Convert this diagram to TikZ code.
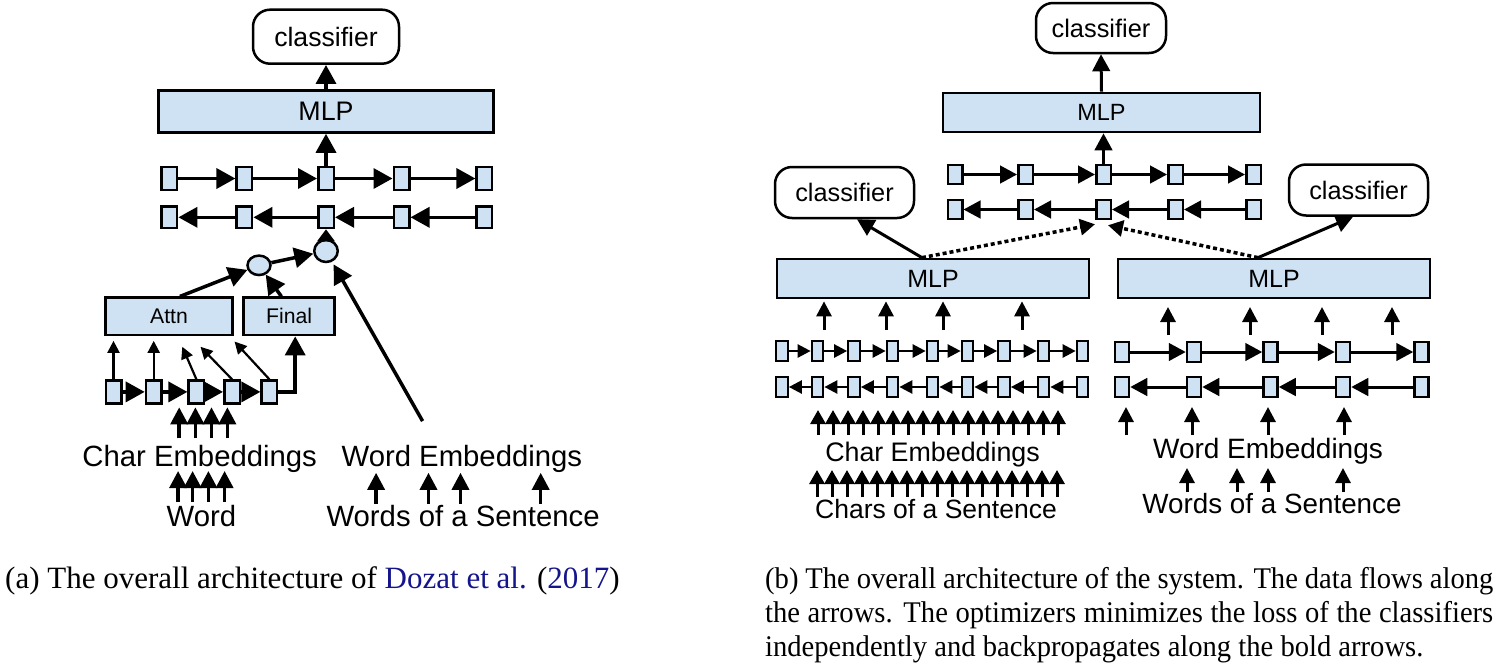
\documentclass[tikz,border=0pt]{standalone}
\usepackage{fontspec}
\setmainfont{Liberation Serif}
\newfontfamily\arial{Liberation Sans}
\usetikzlibrary{arrows.meta,shapes.geometric}
\definecolor{cellblue}{RGB}{207,226,243}
\definecolor{citeblue}{RGB}{20,20,140}
\newcommand\setfs[1]{\fontsize{#1}{#1}\selectfont}
\begin{document}
\begin{tikzpicture}[x=1pt,y=-1pt,
  blk/.style={draw, line width=2.7pt, fill=cellblue, inner sep=0pt},
  cell/.style={draw, line width=2.5pt, fill=cellblue, inner sep=0pt},
  scell/.style={draw, line width=2.2pt, fill=cellblue, inner sep=0pt, minimum width=11.5pt, minimum height=20pt},
  circ/.style={ellipse, draw, line width=2.5pt, fill=cellblue, inner sep=0pt},
  cls/.style={draw, line width=2.5pt, rounded corners=17pt, fill=white, inner sep=0pt},
  arrA/.style={line width=3.5pt, -{Triangle[length=19pt,width=20pt]}},
  barrA/.style={line width=3.5pt, -{Triangle[length=17pt,width=17pt]}},
  arr/.style={line width=3pt, -{Triangle[length=17pt,width=17.5pt]}},
  uarr/.style={line width=3pt, -{Triangle[length=15pt,width=15pt]}},
  carr/.style={line width=3pt, -{Triangle[length=14pt,width=15pt]}},
  tarr/.style={line width=2.2pt, -{Triangle[length=12pt,width=12pt]}},
  sarr/.style={line width=2.5pt, -{Triangle[length=13pt,width=13pt]}},
  darr/.style={line width=3.5pt, dash pattern=on 4pt off 3pt, -{Triangle[length=15pt,width=16pt]}},
  lab/.style={inner sep=0pt, anchor=base, font=\arial\setfs{29.3}},
  captxt/.style={inner sep=0pt, anchor=base west, font=\setfs{30}},
]
\useasboundingbox (0,0) rectangle (1497,665);

% ---------------- left panel (a) ----------------
\node[cls, minimum width=146pt, minimum height=54pt, font=\arial\setfs{26.6}] (clsA) at (326,36.7) {classifier};
\node[blk, minimum width=335pt, minimum height=42pt, font=\arial\setfs{26.8}] (mlpA) at (326,111.4) {MLP};
\draw[arrA] (mlpA.north) -- (clsA.south);
\foreach \i/\x in {1/169.4,2/244.4,3/326,4/401.5,5/484.4}{
  \node[cell, minimum width=15.5pt, minimum height=23pt] (fa\i) at (\x,178.5) {};
  \node[cell, minimum width=15.5pt, minimum height=21.5pt] (ba\i) at (\x,217.3) {};
}
\foreach \i/\j in {1/2,2/3,3/4,4/5}{
  \draw[arrA] (fa\i.east) -- (fa\j.west);
  \draw[arrA] (ba\j.west) -- (ba\i.east);
}
\draw[arrA] (fa3.north) -- (mlpA.south);

\node[circ, minimum width=23.5pt, minimum height=22pt] (cB) at (326,251) {};
\node[circ, minimum width=23pt, minimum height=19.5pt] (cA) at (259,265.3) {};
\draw[line width=3.5pt, -{Triangle[length=12pt,width=17pt]}] (cB.north) -- (ba3.south);
\draw[arrA] (cA) -- (cB);

\node[blk, minimum width=126.4pt, minimum height=37.2pt, font=\arial\setfs{21.2}] (attn) at (169,316.4) {Attn};
\node[blk, minimum width=91.2pt, minimum height=37.2pt, font=\arial\setfs{21.2}] (final) at (289.2,316.4) {Final};
\draw[arrA] ([xshift=10.9pt]attn.north) -- (cA);
\draw[arrA] ([xshift=-7.8pt]final.north) -- (cA);

\foreach \i/\x in {1/113.5,2/153.7,3/196.4,4/232,5/269.4}{
  \node[cell, minimum width=15.5pt, minimum height=22.7pt] (lc\i) at (\x,391.9) {};
}
\foreach \i/\j in {1/2,2/3,3/4,4/5}{
  \draw[arrA] (lc\i.east) -- (lc\j.west);
}
\coordinate (fcorner) at (295.2,391.9);
\draw[arrA] (lc5.east) -- (fcorner) -- (fcorner |- final.south);
\coordinate (tA) at ([yshift=-4.5pt]attn.south);
\draw[tarr] (lc1.north) -- (lc1.north |- tA);
\draw[tarr] (lc2.north) -- (lc2.north |- tA);
\draw[tarr] (lc3.north) -- ([xshift=13.3pt,yshift=-10.4pt]attn.south);
\draw[tarr] (lc4.north) -- ([xshift=31.5pt,yshift=-10.4pt]attn.south);
\draw[tarr] (lc5.north) -- ([xshift=1pt,yshift=-5.2pt]attn.south east);

\node[lab] (ceA) at (199.7,466) {Char Embeddings};
\node[lab] (weA) at (461.9,466) {Word Embeddings};
\node[lab] (wA) at (201.4,526) {Word};
\node[lab] (wsA) at (463.1,526) {Words of a Sentence};
\foreach \x in {179.2,195.4,211.5,227.4} \draw[barrA] (\x,438.3) -- (\x,407.3);
\foreach \x in {178.1,192.6,208.4,224.6} \draw[barrA] (\x,502) -- (\x,471);
\foreach \x in {376.1,428.5,460.5,540.7} \draw[barrA] (\x,503.8) -- (\x,472.8);
\coordinate (lw) at (422.6,421.1);
\draw[arrA, shorten >=3pt] (lw) -- (cB);

% ---------------- right panel (b) ----------------
\node[cls, minimum width=130pt, minimum height=50pt, font=\arial\setfs{25.4}] (clsT) at (1101,28) {classifier};
\node[blk, minimum width=317pt, minimum height=39pt, font=\arial\setfs{23.5}] (mlpT) at (1101.5,112.5) {MLP};
\draw[arr] (mlpT.north) -- (clsT.south);
\foreach \i/\x in {1/955,2/1025.5,3/1103.5,4/1175.5,5/1253.5}{
  \node[cell, minimum width=14.5pt, minimum height=19pt] (ft\i) at (\x,174.5) {};
  \node[cell, minimum width=14.5pt, minimum height=19pt] (bt\i) at (\x,209.5) {};
}
\foreach \i/\j in {1/2,2/3,3/4,4/5}{
  \draw[arr] (ft\i.east) -- (ft\j.west);
  \draw[arr] (bt\j.west) -- (bt\i.east);
}
\draw[arr] (ft3.north) -- (ft3.north |- mlpT.south);

\node[cls, minimum width=139pt, minimum height=51pt, font=\arial\setfs{25.3}] (clsL) at (844.5,192.5) {classifier};
\node[cls, minimum width=139pt, minimum height=51pt, font=\arial\setfs{25.3}] (clsR) at (1358.5,190) {classifier};
\node[blk, minimum width=312pt, minimum height=39pt, font=\arial\setfs{25}] (mlpL) at (933,278.5) {MLP};
\node[blk, minimum width=312pt, minimum height=39pt, font=\arial\setfs{25}] (mlpR) at (1274,278.5) {MLP};
\draw[arr] ([xshift=-11pt]mlpL.north) -- ([xshift=12.5pt]clsL.south);
\draw[arr] ([xshift=-16pt]mlpR.north) -- ([xshift=-5.5pt]clsR.south);
\draw[darr] ([xshift=-11pt]mlpL.north) -- ([xshift=-8.5pt,yshift=-4pt]bt3.south);
\draw[darr] ([xshift=-16pt]mlpR.north) -- ([xshift=4.5pt,yshift=-5pt]bt3.south);

% char rows
\foreach \i/\x in {1/782,2/817.5,3/854,4/892.5,5/932.5,6/967.5,7/1004,8/1043.5,9/1082.5}{
  \node[scell] (fc\i) at (\x,351) {};
  \node[scell] (bc\i) at (\x,387) {};
}
\foreach \i/\j in {1/2,2/3,3/4,4/5,5/6,6/7,7/8,8/9}{
  \draw[sarr] (fc\i.east) -- (fc\j.west);
  \draw[sarr] (bc\j.west) -- (bc\i.east);
}
\foreach \x in {824,886,943,1022} \draw[uarr, shorten >=2pt] (\x,330) -- (\x,0 |- mlpL.south);
\foreach \k in {0,...,16} \draw[carr] ({818+15*\k},435) -- ({818+15*\k},410);
\node[lab, font=\arial\setfs{26.8}] (ceB) at (932.5,461) {Char Embeddings};
\foreach \k in {0,...,16} \draw[carr] ({817+15*\k},497) -- ({817+15*\k},470);
\node[lab, font=\arial\setfs{26.5}] (csB) at (936,518) {Chars of a Sentence};

% word rows
\foreach \i/\x in {1/1122,2/1194,3/1270.5,4/1343,5/1421.5}{
  \node[cell, minimum width=14pt, minimum height=20pt] (fw\i) at (\x,352) {};
  \node[cell, minimum width=14pt, minimum height=20pt] (bw\i) at (\x,387) {};
}
\foreach \i/\j in {1/2,2/3,3/4,4/5}{
  \draw[arr] (fw\i.east) -- (fw\j.west);
  \draw[arr] (bw\j.west) -- (bw\i.east);
}
\foreach \x in {1168,1250,1322,1392} \draw[uarr] (\x,335) -- (\x,307);
\foreach \x in {1126,1192,1268,1344} \draw[uarr] (\x,435) -- (\x,407);
\node[lab, font=\arial\setfs{28}] (weB) at (1268,458) {Word Embeddings};
\foreach \x in {1187,1237,1268,1343} \draw[uarr] (\x,492) -- (\x,468);
\node[lab, font=\arial\setfs{27.8}] (wsB) at (1272,513) {Words of a Sentence};

% ---------------- captions ----------------
\node[captxt, font=\setfs{31}] (capA) at (5,588) {(a) The overall architecture of \textcolor{citeblue}{Dozat et al.} (\textcolor{citeblue}{2017})};
\node[captxt] (capB1) at (765,588) {\scalebox{0.953}[1]{\makebox[764pt][s]{(b) The overall architecture of the system. The data flows along}}};
\node[captxt] (capB2) at (765,622) {\scalebox{0.953}[1]{\makebox[764pt][s]{the arrows. The optimizers minimizes the loss of the classifiers}}};
\node[captxt] (capB3) at (765,656) {\scalebox{0.953}[1]{independently and backpropagates along the bold arrows.}};
\end{tikzpicture}
\end{document}
